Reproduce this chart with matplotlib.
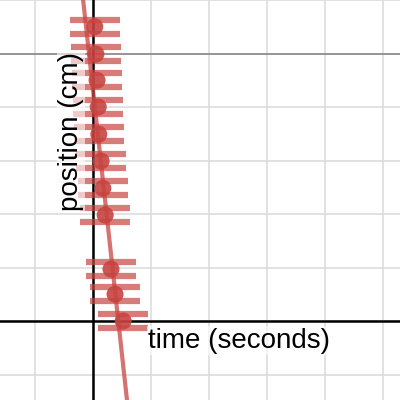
import matplotlib
matplotlib.use("Agg")
import matplotlib.pyplot as plt
import numpy as np

xs = [0.03, 0.05, 0.07, 0.09, 0.10, 0.14, 0.17, 0.21, 0.31, 0.38, 0.52]
ys = [5.5, 4.99, 4.5, 4.0, 3.49, 2.99, 2.48, 1.98, 0.97, 0.50, 0.0]
xerr = 0.43
line_x = [-0.17, 0.586]
line_y = [6.0, -1.48]

plt.rcParams['font.family'] = ['Liberation Sans', 'DejaVu Sans']
fig = plt.figure(figsize=(4, 4), dpi=100)
ax = fig.add_axes([0, 0, 1, 1])
x0, x1 = -93/58, 307/58
y0, y1 = -79/53.5, 321/53.5
ax.set_xlim(x0, x1); ax.set_ylim(y0, y1)
for gx in range(-1, 6):
    ax.axvline(gx, color="#dddddd", lw=1.2, zorder=0)
for gy in range(-1, 7):
    ax.axhline(gy, color="#dddddd", lw=1.2, zorder=0)
ax.axhline(5, color="#888888", lw=1.2, zorder=0)
ax.axhline(0, color="black", lw=1.8, zorder=1)
ax.axvline(0, color="black", lw=1.8, zorder=1)
red = "#c74440"
ax.plot(line_x, line_y, color=red, lw=3, alpha=0.75, zorder=2)
for x, y in zip(xs, ys):
    for dy in (-0.13, 0.13):
        ax.plot([x - xerr, x + xerr], [y + dy, y + dy], color=red, lw=4.5,
                alpha=0.7, solid_capstyle="butt", zorder=3)
ax.scatter(xs, ys, s=150, color=red, alpha=0.9, zorder=4, edgecolors="none")
ax.text(-0.38, 3.55, "position (cm)", rotation=90, fontsize=20, ha="center",
        va="center", zorder=5,
        bbox=dict(facecolor="white", edgecolor="none", alpha=0.6, pad=1))
ax.text(0.95, -0.37, "time (seconds)", fontsize=20, ha="left", va="center", zorder=5,
        bbox=dict(facecolor="white", edgecolor="none", alpha=0.6, pad=1))
ax.axis("off")
fig.savefig("out.png", dpi=100)
